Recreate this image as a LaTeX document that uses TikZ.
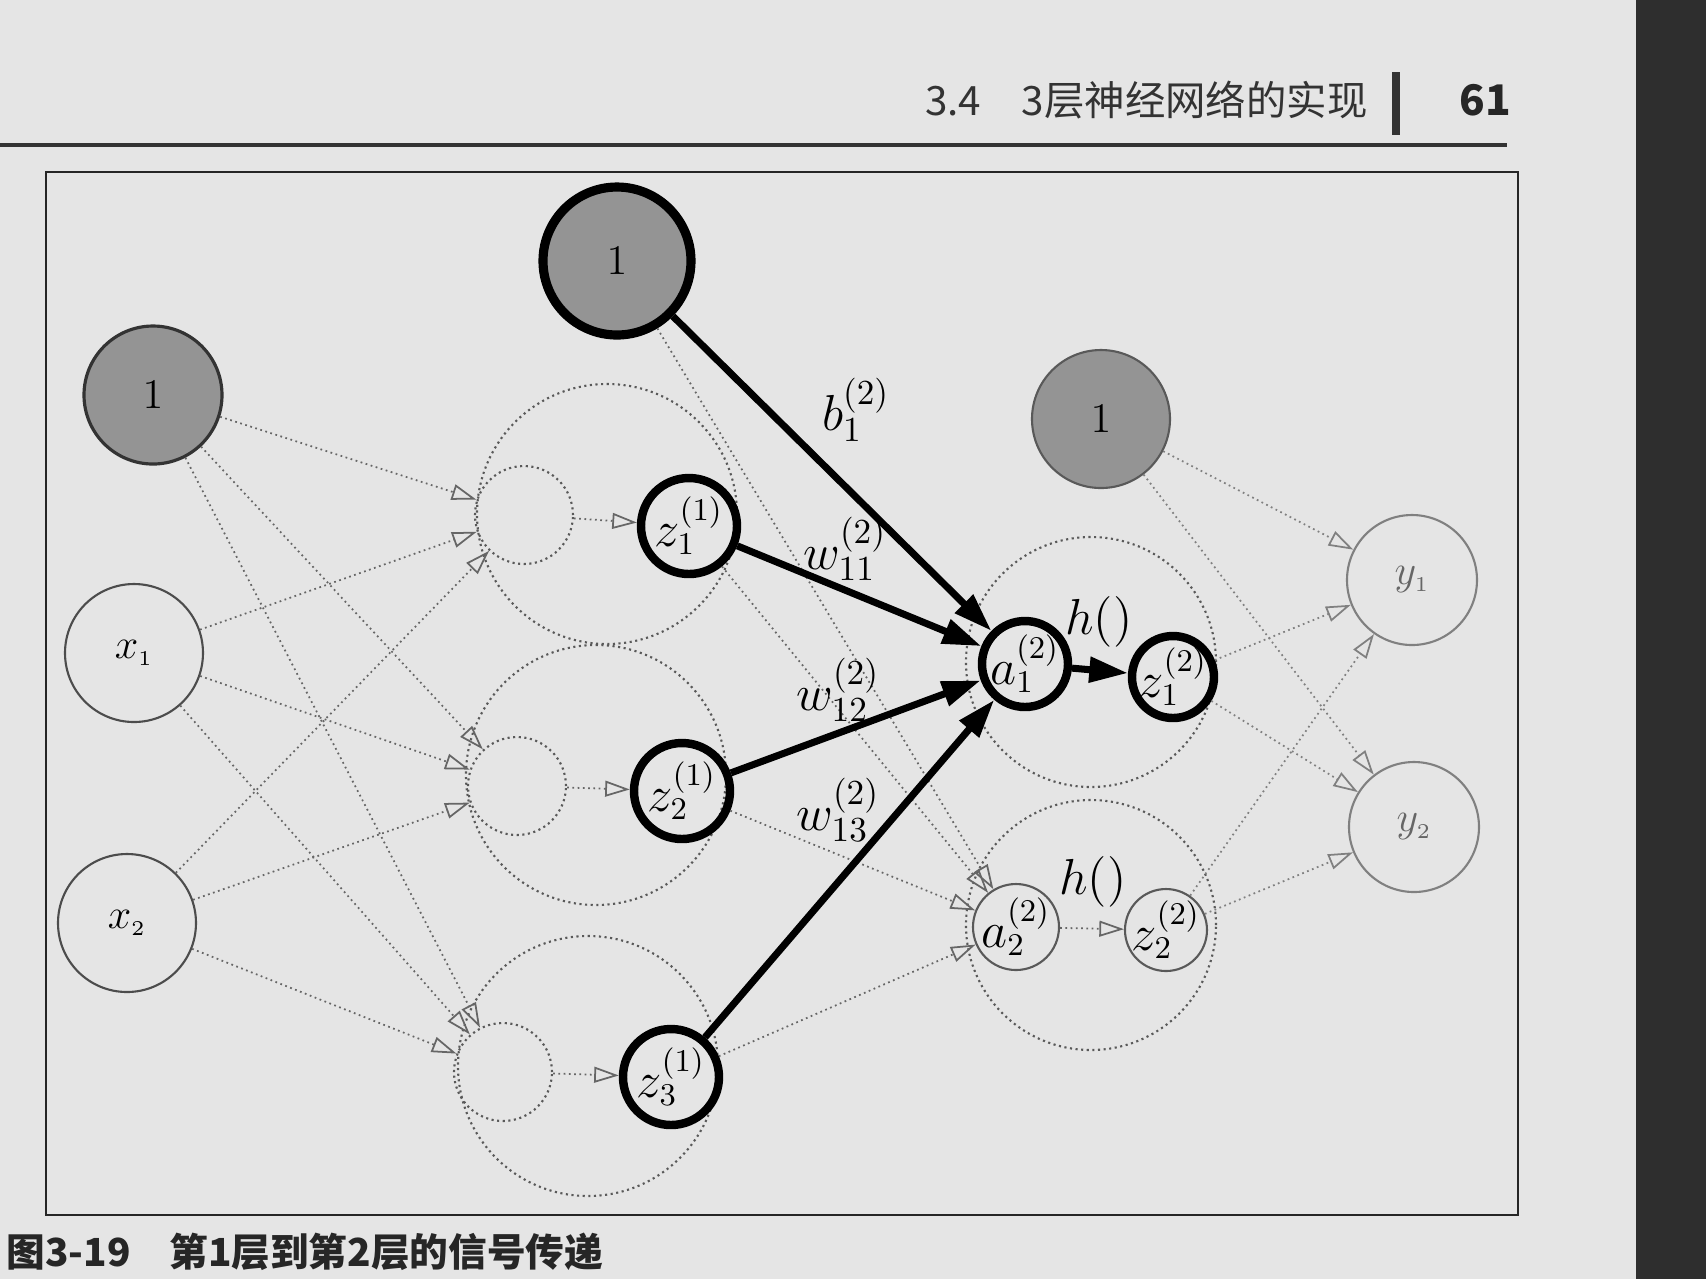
\documentclass[tikz,border=0pt]{standalone}
\usepackage{fontspec}
\newfontfamily\cjk{Noto Sans CJK SC}
\usetikzlibrary{arrows.meta}
\begin{document}
\begin{tikzpicture}[x=0.1mm,y=-0.1mm,
  neuron/.style={circle,draw=black!70,line width=0.6pt,inner sep=0pt,font=\fontsize{12}{14}\selectfont},
  biasn/.style={neuron,fill=black!42,draw=black!80,line width=0.9pt},
  hot/.style={circle,draw=black,line width=2.4pt,inner sep=-5pt,font=\fontsize{13.5}{16}\selectfont},
  soft/.style={circle,draw=black!65,line width=0.6pt,inner sep=-5pt,font=\fontsize{13.5}{16}\selectfont},
  shell/.style={circle,draw=black!65,densely dotted,line width=0.6pt,inner sep=0pt},
  weak/.style={draw=black!60,line width=0.5pt,densely dotted,-{Triangle[open,length=7pt,width=4.5pt]}},
  strong/.style={draw=black,line width=2pt,-{Triangle[length=11pt,width=7pt]}},
  lab/.style={font=\fontsize{14}{17}\selectfont,inner sep=1pt},
]
\useasboundingbox (0,0) rectangle (1706,1279);
\fill[black!10] (0,0) rectangle (1706,1279);
\fill[black!82] (1636,0) rectangle (1706,1279);

% header
\node[anchor=east,font=\cjk\fontsize{11.5}{14}\selectfont,text=black!80] (hd) at (1380,100) {3.4\quad 3层神经网络的实现};
\coordinate (bt) at (1396,72);
\coordinate (bb) at (1396,135);
\draw[line width=2.2pt,black!80] (bt) -- (bb);
\node[font=\cjk\bfseries\fontsize{12}{14}\selectfont,text=black!85] (pg) at (1485,100) {61};
\coordinate (r0) at (0,145);
\coordinate (r1) at (1507,145);
\draw[line width=0.9pt,black!80] (r0) -- (r1);

% frame
\draw[line width=0.8pt,black!85] (46,172) rectangle (1518,1215);

% input layer
\node[biasn,minimum size=13.8mm] (b1) at (153,395) {$1$};
\node[neuron,minimum size=13.8mm] (x1) at (134,653) {$x_{\scriptscriptstyle 1}$};
\node[neuron,minimum size=13.8mm] (x2) at (127,923) {$x_{\scriptscriptstyle 2}$};

% top bias
\node[biasn,line width=2.6pt,draw=black,minimum size=14.8mm] (b2) at (617,261) {$1$};

% hidden layer 1
\node[shell,minimum size=26mm] (s1) at (607,514) {};
\node[shell,minimum size=26mm] (s2) at (596,775) {};
\node[shell,minimum size=26mm] (s3) at (588,1066) {};
\node[shell,minimum size=9.8mm] (h1) at (524,515) {};
\node[shell,minimum size=9.8mm] (h2) at (517,786) {};
\node[shell,minimum size=9.8mm] (h3) at (503,1072) {};
\node[hot,minimum size=9.6mm] (z1) at (689,526) {$z_1^{(1)}$};
\node[hot,minimum size=9.6mm] (z2) at (682,791) {$z_2^{(1)}$};
\node[hot,minimum size=9.6mm] (z3) at (671,1077) {$z_3^{(1)}$};

% hidden layer 2
\node[biasn,draw=black!65,line width=0.6pt,minimum size=13.8mm] (b3) at (1101,419) {$1$};
\node[shell,minimum size=25mm] (s4) at (1091,662) {};
\node[shell,minimum size=25mm] (s5) at (1091,925) {};
\node[hot,minimum size=8.6mm] (a1) at (1025,664) {$a_1^{(2)}$};
\node[hot,minimum size=8.2mm] (y21) at (1173,677) {$z_1^{(2)}$};
\node[soft,minimum size=8.6mm] (a2) at (1016,927) {$a_2^{(2)}$};
\node[soft,minimum size=8.2mm] (y22) at (1166,930) {$z_2^{(2)}$};

% output
\node[neuron,draw=black!50,text=black!60,minimum size=13mm] (o1) at (1412,580) {$y_{\scriptscriptstyle 1}$};
\node[neuron,draw=black!50,text=black!60,minimum size=13mm] (o2) at (1414,827) {$y_{\scriptscriptstyle 2}$};

% layer 0 -> 1
\foreach \s in {b1,x1,x2}{
  \foreach \t in {h1,h2,h3}{
    \draw[weak] (\s) -- (\t);
  }
}
\draw[weak] (h1) -- (z1);
\draw[weak] (h2) -- (z2);
\draw[weak] (h3) -- (z3);

% layer 1 -> 2
\draw[weak] (b2) -- (a2);
\draw[weak] (z1) -- (a2);
\draw[weak] (z2) -- (a2);
\draw[weak] (z3) -- (a2);
\draw[strong] (b2) -- (a1);
\draw[strong] (z1) -- (a1);
\draw[strong] (z2) -- (a1);
\draw[strong] (z3) -- (a1);
\draw[strong] (a1) -- (y21);
\draw[weak] (a2) -- (y22);

% layer 2 -> out
\foreach \s in {b3,y21,y22}{
  \foreach \t in {o1,o2}{
    \draw[weak,draw=black!50] (\s) -- (\t);
  }
}

% labels
\node[lab] (lb) at (856,410) {$b_1^{(2)}$};
\node[lab] (l11) at (845,549) {$w_{11}^{(2)}$};
\node[lab] (l12) at (838,690) {$w_{12}^{(2)}$};
\node[lab] (l13) at (838,810) {$w_{13}^{(2)}$};
\node[lab] (lh1) at (1099,622) {$h()$};
\node[lab] (lh2) at (1093,882) {$h()$};

% caption
\node[anchor=base west,font=\cjk\bfseries\fontsize{11}{13}\selectfont,text=black!85,inner sep=0pt] (cap) at (6,1266) {图3-19\quad 第1层到第2层的信号传递};
\end{tikzpicture}
\end{document}
